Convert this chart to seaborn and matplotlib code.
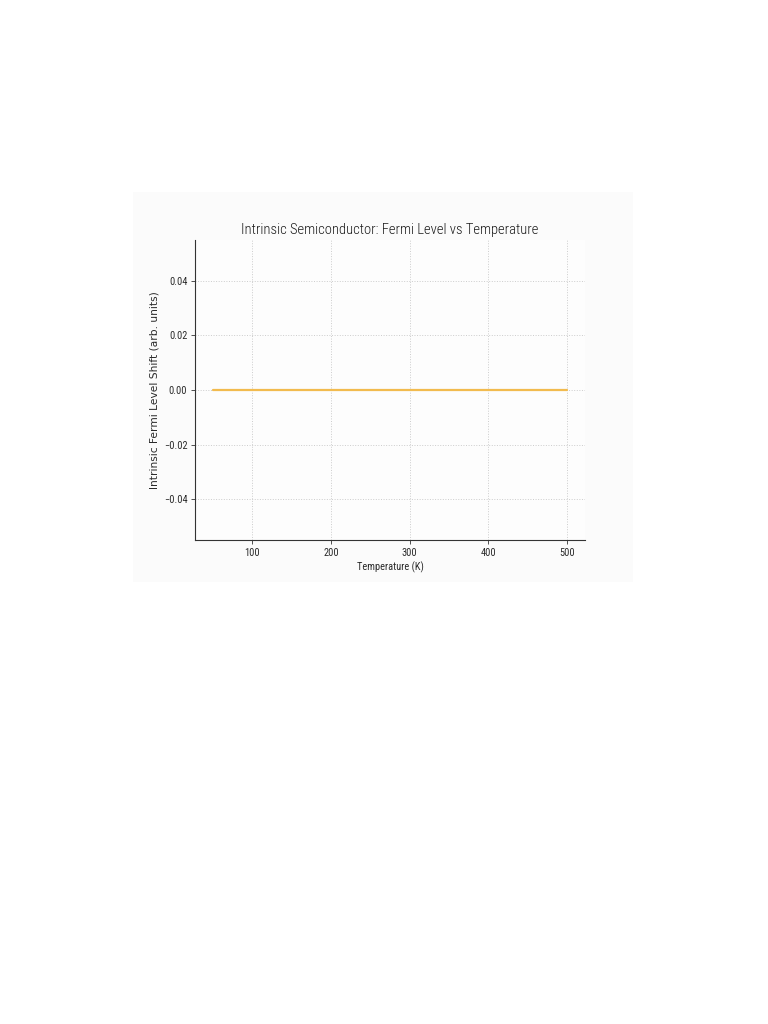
import matplotlib
matplotlib.use("Agg")
import matplotlib.pyplot as plt
import seaborn as sns
import numpy as np
import pandas as pd
from matplotlib.patches import Rectangle

# Data
temperature = [50, 100, 150, 200, 250, 300, 350, 400, 450, 500]
fermi_shift = [0, 0, 0, 0, 0, 0, 0, 0, 0, 0]

title = "Intrinsic Semiconductor: Fermi Level vs Temperature"
xlabel = "Temperature (K)"
ylabel = "Intrinsic Fermi Level Shift (arb. units)"

sns.set_style("white")
narrow = ["Roboto Condensed", "DejaVu Sans"]
plt.rcParams["font.family"] = narrow
plt.rcParams["font.weight"] = "normal"

fig = plt.figure(figsize=(7.68, 10.24), dpi=100)
fig.patch.set_facecolor("white")
# chart panel background
fig.patches.append(Rectangle((133 / 768, 1 - 582 / 1024), 500 / 768, 390 / 1024,
                             transform=fig.transFigure, facecolor="#fbfbfb",
                             edgecolor="none", zorder=-5))

ax = fig.add_axes([195 / 768, 1 - 540 / 1024, 390 / 768, 300 / 1024])
ax.set_zorder(2)
ax.set_facecolor("#fdfdfd")

df = pd.DataFrame({"T": temperature, "E": fermi_shift})
sns.lineplot(data=df, x="T", y="E", ax=ax, color="#f2bb4f", linewidth=1.6)

ax.set_yticks([-0.04, -0.02, 0.0, 0.02, 0.04])
ax.set_xticks([100, 200, 300, 400, 500])
ax.grid(True, linestyle=":", color="#cccccc", linewidth=0.7)
for s in ["top", "right"]:
    ax.spines[s].set_visible(False)
for s in ["left", "bottom"]:
    ax.spines[s].set_color("#333333")
    ax.spines[s].set_linewidth(0.8)
ax.tick_params(axis="both", labelsize=7.5, colors="#333333", labelcolor="#2a2a2a",
               length=3, width=0.6, direction="out", bottom=True, left=True, pad=2.5)
ax.set_title(title, fontsize=10.5, color="#1a1a1a", pad=4, fontweight="light")
ax.set_xlabel(xlabel, fontsize=7.5, color="#2a2a2a", labelpad=3)
ax.set_ylabel(ylabel, fontsize=7.7, color="#2a2a2a", family="DejaVu Sans",
              fontweight="normal", labelpad=3)

fig.savefig("out.png", dpi=100, facecolor="white")
